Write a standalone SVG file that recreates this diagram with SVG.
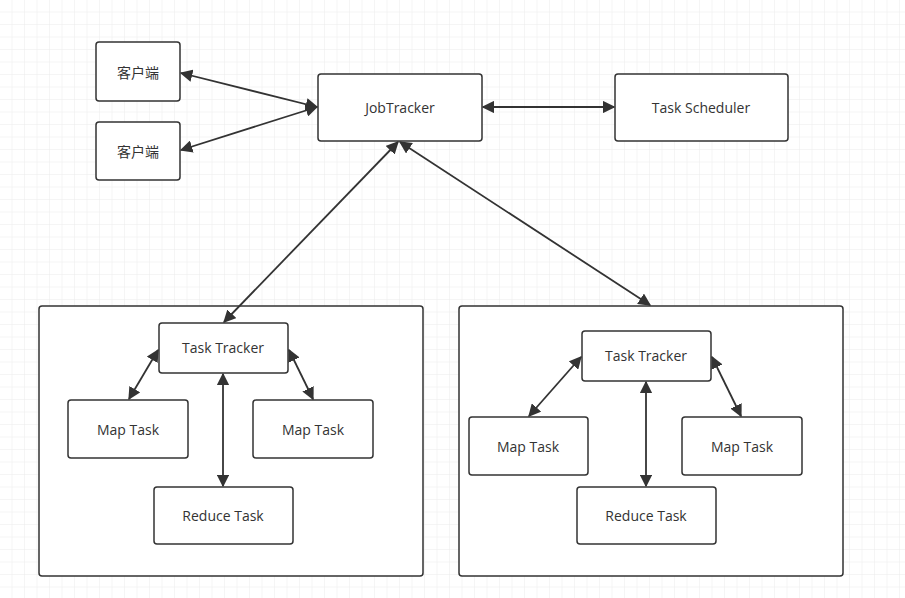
<svg xmlns="http://www.w3.org/2000/svg" width="905" height="598" viewBox="0 0 905 598">
<defs>
<pattern id="g" width="12.5" height="12.5" patternUnits="userSpaceOnUse"><path d="M12.5 0V12.5H0" fill="none" stroke="#ececec" stroke-width="1"/></pattern>
<marker id="a" viewBox="0 0 10 10" refX="9" refY="5" markerWidth="7" markerHeight="7" orient="auto-start-reverse"><path d="M0 0L10 5L0 10z" fill="#333"/></marker>
<style>
.n{fill:#fff;stroke:#333;stroke-width:1.5}
.t{font-family:"Open Sans","Noto Sans CJK SC",sans-serif;font-size:14px;fill:#333;text-anchor:middle;dominant-baseline:central}
.c line{stroke:#333;stroke-width:1.8;marker-start:url(#a);marker-end:url(#a)}
</style>
</defs>
<rect width="905" height="598" fill="#fff"/>
<rect width="905" height="598" fill="url(#g)"/>
<g id="left-box"><rect class="n" x="39" y="306" width="384" height="270" rx="3"/></g>
<g id="right-box"><rect class="n" x="459" y="306" width="384" height="270" rx="3"/></g>
<g id="client1"><rect class="n" x="96" y="42" width="84" height="59" rx="3"/><text class="t" x="138" y="72">客户端</text></g>
<g id="client2"><rect class="n" x="96" y="122" width="84" height="58" rx="3"/><text class="t" x="138" y="151">客户端</text></g>
<g id="jobtracker"><rect class="n" x="318" y="74" width="164" height="67" rx="3"/><text class="t" x="400" y="107">JobTracker</text></g>
<g id="scheduler"><rect class="n" x="615" y="74" width="173" height="67" rx="3"/><text class="t" x="701" y="107">Task Scheduler</text></g>
<g id="tt1"><rect class="n" x="159" y="323" width="129" height="50" rx="3"/><text class="t" x="223" y="347">Task Tracker</text></g>
<g id="map1a"><rect class="n" x="68" y="400" width="120" height="58" rx="3"/><text class="t" x="128" y="429">Map Task</text></g>
<g id="map1b"><rect class="n" x="253" y="400" width="120" height="58" rx="3"/><text class="t" x="313" y="429">Map Task</text></g>
<g id="red1"><rect class="n" x="154" y="487" width="139" height="57" rx="3"/><text class="t" x="223" y="515">Reduce Task</text></g>
<g id="tt2"><rect class="n" x="582" y="331" width="129" height="50" rx="3"/><text class="t" x="646" y="355">Task Tracker</text></g>
<g id="map2a"><rect class="n" x="469" y="417" width="119" height="58" rx="3"/><text class="t" x="528" y="446">Map Task</text></g>
<g id="map2b"><rect class="n" x="682" y="417" width="120" height="58" rx="3"/><text class="t" x="742" y="446">Map Task</text></g>
<g id="red2"><rect class="n" x="577" y="487" width="139" height="57" rx="3"/><text class="t" x="646" y="515">Reduce Task</text></g>
<g id="connectors" class="c">
<line x1="181" y1="73" x2="317" y2="107"/>
<line x1="181" y1="150" x2="317" y2="107"/>
<line x1="483" y1="107" x2="614" y2="107"/>
<line x1="398" y1="142" x2="224" y2="322"/>
<line x1="400" y1="142" x2="650" y2="305"/>
<line x1="158" y1="350" x2="129" y2="399"/>
<line x1="289" y1="350" x2="313" y2="399"/>
<line x1="223" y1="374" x2="223" y2="486"/>
<line x1="581" y1="357" x2="529" y2="416"/>
<line x1="712" y1="357" x2="741" y2="416"/>
<line x1="646" y1="382" x2="646" y2="486"/>
</g>
</svg>
